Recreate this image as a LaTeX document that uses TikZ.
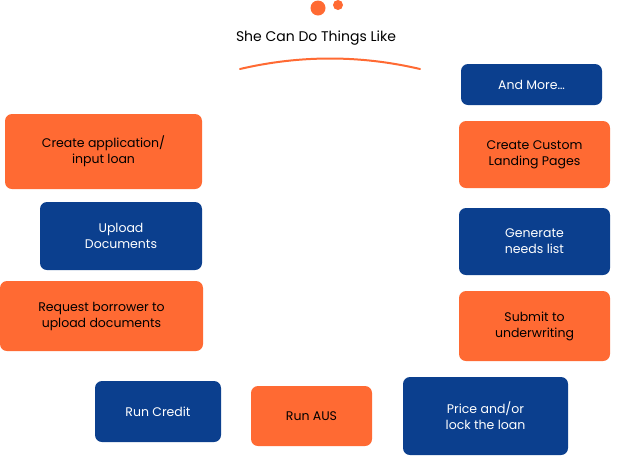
\documentclass[tikz,border=0pt]{standalone}
\usepackage{fontspec}
\setmainfont{Poppins}
\definecolor{org}{HTML}{FF6A33}
\definecolor{nav}{HTML}{0B3F8E}
\begin{document}
\begin{tikzpicture}[x=1pt,y=-1pt,
  bx/.style={rounded corners=7pt,align=center,font=\fontsize{12.5}{16}\selectfont,inner sep=0pt},
  ob/.style={bx,fill=org,text=black},
  nb/.style={bx,fill=nav,text=white}]
\useasboundingbox (0,0) rectangle (626,456);
\fill[org] (318,8) circle (7.5);
\fill[org] (338,5) circle (5);
\node (title) at (316,38) {\fontsize{14}{17}\selectfont She Can Do Things Like};
\draw[org,line width=2pt,line cap=round] (240,69) .. controls (300,55) and (360,55) .. (420,69);
\newcommand\bxx[6]{\path[#1] (#2,#3) rectangle (#4,#5); \node[#1,fill=none] (n#2) at ({(#2+#4)/2},{(#3+#5)/2}) {#6};}
\bxx{nb}{461}{64}{602}{105}{And More…}
\bxx{ob}{459}{121}{610}{188}{Create Custom\\Landing Pages}
\bxx{nb}{459}{208}{610}{275}{Generate\\needs list}
\bxx{ob}{459}{291}{610}{361}{Submit to\\underwriting}
\bxx{nb}{403}{377}{568}{455}{Price and/or\\lock the loan}
\bxx{ob}{251}{386}{372}{446}{Run AUS}
\bxx{nb}{95}{381}{221}{442}{Run Credit}
\bxx{ob}{0}{281}{203}{351}{Request borrower to\\upload documents}
\bxx{nb}{40}{202}{202}{270}{Upload\\Documents}
\bxx{ob}{5}{114}{202}{189}{Create application/\\input loan}
\end{tikzpicture}
\end{document}
